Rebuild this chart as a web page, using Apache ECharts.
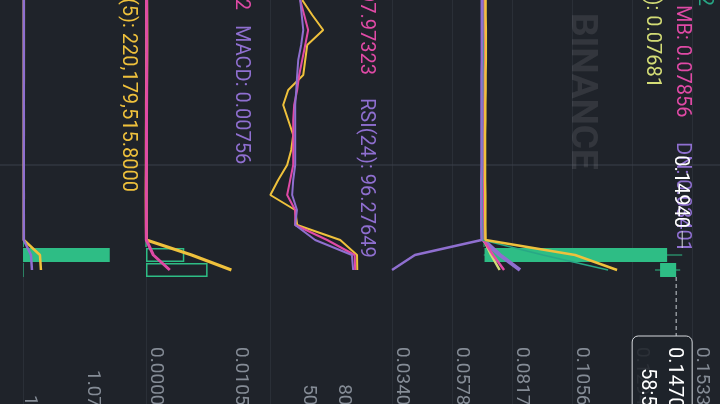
<!DOCTYPE html>
<html><head><meta charset="utf-8">
<script src="https://cdn.jsdelivr.net/npm/echarts@6/dist/echarts.min.js"></script>
<style>html,body{margin:0;padding:0;background:#1f232a;}#c{width:720px;height:404px;}</style>
</head><body><div id="c"></div>
<script>
// ---------- data ----------
const categories = ['10-27 02:00','10-27 03:00','10-27 04:00','10-27 05:00','10-27 06:00','10-27 07:00','10-27 08:00','10-27 09:00','10-27 10:00','10-27 11:00','10-27 12:00','10-27 13:00','10-27 14:00','10-27 15:00','10-27 16:00','10-27 17:00','10-27 18:00','10-27 19:00','10-27 20:00','10-27 21:00','10-27 22:00','10-27 23:00','10-28 00:00','10-28 01:00','10-28 02:00','10-28 03:00','10-28 04:00','10-28 05:00'];
// [open, close, low, high]
const candles = [
 [0.0704,0.0706,0.0701,0.0709],[0.0706,0.0703,0.0700,0.0708],[0.0703,0.0707,0.0702,0.0710],
 [0.0707,0.0705,0.0702,0.0709],[0.0705,0.0704,0.0701,0.0707],[0.0704,0.0702,0.0699,0.0706],
 [0.0702,0.0701,0.0698,0.0705],[0.0701,0.0702,0.0699,0.0704],[0.0702,0.0703,0.0700,0.0705],
 [0.0703,0.0702,0.0700,0.0705],[0.0702,0.0702,0.0700,0.0704],[0.0702,0.0701,0.0699,0.0704],
 [0.0701,0.0700,0.0698,0.0703],[0.0700,0.0698,0.0696,0.0702],[0.0698,0.0703,0.0697,0.0705],
 [0.0703,0.0704,0.0701,0.0706],[0.0704,0.0706,0.0702,0.0709],[0.0708,0.1434,0.0705,0.1494],
 [0.1406,0.1470,0.1386,0.1486]
];
const bollUP = [0.0712,0.0712,0.0713,0.0713,0.0713,0.0712,0.0712,0.0711,0.0711,0.0710,0.0710,0.0710,0.0710,0.0711,0.0711,0.0711,0.0712,0.1068,0.1235];
const bollMB = [0.0704,0.0704,0.0704,0.0705,0.0705,0.0704,0.0704,0.0704,0.0703,0.0703,0.0703,0.0703,0.0703,0.0703,0.0703,0.0703,0.0704,0.0742,0.07856];
const bollDN = [0.0697,0.0697,0.0697,0.0697,0.0697,0.0696,0.0696,0.0696,0.0696,0.0696,0.0696,0.0696,0.0695,0.0695,0.0695,0.0695,0.0696,0.0431,0.03401];
const ma7 = [0.0700,0.0701,0.0701,0.0702,0.0702,0.0701,0.0701,0.0700,0.0700,0.0700,0.0700,0.0700,0.0699,0.0699,0.0699,0.0700,0.0701,0.0940,0.11992];
const ma25 = [0.0705,0.0705,0.0705,0.0705,0.0705,0.0705,0.0705,0.0704,0.0704,0.0704,0.0704,0.0704,0.0704,0.0704,0.0704,0.0704,0.0705,0.0734,0.07681];
const ma99 = [0.0704,0.0704,0.0704,0.0704,0.0704,0.0704,0.0704,0.0704,0.0704,0.0704,0.0704,0.0704,0.0704,0.0704,0.0704,0.0704,0.0704,0.0769,0.0849];
const volumes = [9800000,12100000,8500000,10200000,7900000,11300000,9100000,8200000,10600000,9400000,7500000,8800000,10100000,12600000,9000000,8700000,11200000,1064000000,7200000];
const volMA5 = [9900000,10000000,9800000,10100000,9700000,10000000,9400000,9300000,9700000,9700000,9000000,8700000,9300000,9700000,9600000,9800000,10300000,208000000,220179515.8];
const volMA10 = [9800000,9900000,9900000,10000000,9900000,9900000,9800000,9700000,9700000,9800000,9600000,9500000,9500000,9700000,9600000,9500000,9600000,98000000,110000000];
const macdDIF = [0.00008,0.00009,0.0001,0.0001,0.00009,0.00008,0.00006,0.00005,0.00005,0.00004,0.00004,0.00004,0.00003,0.00002,0.00003,0.00004,0.00006,0.0056,0.01048];
const macdDEA = [0.00007,0.00008,0.00008,0.00009,0.00009,0.00008,0.00008,0.00007,0.00006,0.00006,0.00005,0.00005,0.00004,0.00004,0.00004,0.00004,0.00004,0.0009,0.00292];
const macdHist = [0.00001,0.00001,0.00002,0.00001,0,0,-0.00002,-0.00002,-0.00001,-0.00002,-0.00001,-0.00001,-0.00001,-0.00002,-0.00001,0,0.00002,0.0047,0.00756];
const rsi6 = [52.6,61.2,70.6,56.9,55.2,53.5,40.6,36.3,40.6,44.9,43.2,39.7,32.0,25.3,46.6,48.3,85.2,99.6,99.8];
const rsi12 = [50.9,54.3,57.7,55.2,52.6,50.0,48.3,45.7,44.9,44.9,44.9,44.9,42.3,39.7,46.6,46.6,74.0,97.6,97.97323];
const rsi24 = [50.9,52.2,53.5,51.7,49.2,48.3,47.5,46.6,46.6,46.6,46.6,46.6,44.9,44.0,48.1,46.6,63.7,95.2,96.27649];

const priceTickLabels = ['0.0340','0.0578','0.0817','0.1056','0.1294','0.1533'];
const macdTickLabels = ['0.0000','0.0105'];
const rsiTickValues = [50, 80];
const rsiTickLabels = ['50','80'];
const volTickLabels = ['1','1.07B'];
const highPrice = 0.14940, highLabel = '0.14940';
const lastPrice = 0.1470, lastLabel = '0.1470', countdown = '58:52';
const crossIndex = 11;
const legendVol = ['MA(5): 220,179,515.8000'];
const legendMacd = ['DEA: 0.00292','MACD: 0.00756'];
const legendRsi = ['RSI(12): 97.97323','RSI(24): 96.27649'];
const legendMain = ['MA(7): 0.11992','MB: 0.07856','DN: 0.03401','MA(25): 0.07681'];

// ---------- styles ----------
const C = {bg:'#1f232a', grid:'#2a2f37', label:'#858c96', green:'#2ebd85', red:'#f6465d',
  yellow:'#efc13c', pink:'#e04aa6', purple:'#8f6fd0', lime:'#d3dc76', teal:'#28a886'};
const FONT = 'Roboto, "Noto Sans", sans-serif';
const TOP = -7.5, H = 15 * categories.length;

function fmtStep(min, step, labels) {
  return v => {
    const k = Math.round((v - min) / step);
    if (k < 0 || k >= labels.length) return '';
    if (Math.abs(v - (min + k * step)) > step * 0.02) return '';
    return labels[k];
  };
}
function xAxis(gi, min, max, interval, formatter, split) {
  return {type:'value', gridIndex:gi, min, max, interval, position:'bottom',
    axisLine:{show:false}, axisTick:{show:false},
    splitLine:{show:!!split, lineStyle:{color:C.grid, width:1}},
    axisLabel:{show:!!formatter, inside:true, rotate:-90, margin:7, align:'right', verticalAlign:'bottom',
      color:C.label, fontSize:19, fontFamily:FONT, formatter: formatter || undefined,
      showMinLabel:true, showMaxLabel:true}};
}
function yAxis(gi, line) {
  return {type:'category', gridIndex:gi, data:categories, inverse:true, boundaryGap:true,
    axisLine:{show:line, lineStyle:{color:C.grid, width:1}}, axisTick:{show:false},
    axisLabel:{show:false}, splitLine:{show:false}};
}
function grid(left, width) {
  return {left, width, top:TOP, height:H, containLabel:false, outerBoundsMode:'none'};
}
function line(xi, data, color, width, z) {
  return {type:'line', xAxisIndex:xi, yAxisIndex:xi, data, symbol:'none', clip:false, z: z || 2,
    lineStyle:{color, width}, itemStyle:{color}, animation:false, silent:true};
}
function renderCandle(params, api) {
  const i = api.value(0), o = api.value(1), c = api.value(2), l = api.value(3), h = api.value(4);
  const po = api.coord([o, i]), pc = api.coord([c, i]), pl = api.coord([l, i]), ph = api.coord([h, i]);
  const bw = api.size([0, 1])[1] * 0.93;
  const color = c >= o ? C.green : C.red;
  return {type:'group', children:[
    {type:'line', shape:{x1:pl[0], y1:pl[1], x2:ph[0], y2:ph[1]}, style:{stroke:color, lineWidth:1}},
    {type:'rect', shape:{x:Math.min(po[0], pc[0]), y:po[1] - bw / 2, width:Math.max(Math.abs(pc[0] - po[0]), 1), height:bw},
      style:{fill:color}}
  ]};
}

const option = {
  backgroundColor: C.bg,
  animation: false,
  grid: [grid(23, 106), grid(146, 110), grid(270, 88), grid(392, 328)],
  xAxis: [
    xAxis(0, 0, 1300000000, 1300000000, null, false),
    xAxis(1, 0, 0.0135, 0.0105, fmtStep(0, 0.0105, macdTickLabels), false),
    xAxis(2, 25, 100.43, 5, v => { const i = rsiTickValues.indexOf(Math.round(v)); return (i >= 0 && Math.abs(v - rsiTickValues[i]) < 0.01) ? rsiTickLabels[i] : ''; }, false),
    xAxis(3, 0.0340, 0.16443, 0.02386, fmtStep(0.0340, 0.02386, priceTickLabels), true)
  ],
  yAxis: [yAxis(0, true), yAxis(1, true), yAxis(2, true), yAxis(3, false)],
  series: [
    {type:'bar', xAxisIndex:0, yAxisIndex:0, data:volumes, barWidth:14, silent:true,
      itemStyle:{color: p => candles[p.dataIndex][1] >= candles[p.dataIndex][0] ? C.green : C.red}},
    line(0, volMA5, C.yellow, 2.5),
    line(0, volMA10, C.purple, 2.5),
    {type:'bar', xAxisIndex:1, yAxisIndex:1, data:macdHist, barWidth:14, silent:true,
      itemStyle:{color:'rgba(0,0,0,0)', borderWidth:1.5,
        borderColor: p => macdHist[p.dataIndex] >= 0 ? C.green : C.red}},
    line(1, macdDIF, C.yellow, 3),
    line(1, macdDEA, C.pink, 3),
    line(2, rsi6, C.yellow, 2),
    line(2, rsi12, C.pink, 2),
    line(2, rsi24, C.purple, 2),
    {type:'custom', xAxisIndex:3, yAxisIndex:3, silent:true, clip:false,
      data: candles.map((c, i) => [i, c[0], c[1], c[2], c[3]]),
      encode:{x:[1, 2, 3, 4], y:0}, renderItem: renderCandle},
    line(3, ma99, C.purple, 4),
    line(3, ma25, C.lime, 2.5),
    line(3, bollMB, C.pink, 2.5),
    line(3, ma7, C.teal, 1.5),
    line(3, bollUP, C.yellow, 2.5),
    line(3, bollDN, C.purple, 2.5)
  ]
};

const chart = echarts.init(document.getElementById('c'), null, {renderer:'canvas'});
chart.setOption(option);

function vtext(x, y, text, color, align, size, weight, z) {
  const font = (weight || 'normal') + ' ' + size + 'px ' + FONT;
  return {type:'text', x, y, rotation:-Math.PI/2, z: z || 10, silent:true,
    style:{text, fill:color, font, textAlign:align, textVerticalAlign:'middle', align, verticalAlign:'middle'}};
}
const P = (gi, v, i) => chart.convertToPixel({gridIndex:gi}, [v, categories[i]]);
const hp = P(3, highPrice, 17);
const cp = P(3, lastPrice, 18);
const cross = P(3, lastPrice, crossIndex);

const graphics = [
  {type:'line', z:1, silent:true, shape:{x1:0, y1:cross[1], x2:720, y2:cross[1]}, style:{stroke:'#3a404a', lineWidth:1}},
  vtext(581, 13, 'BINANCE', 'rgba(255,255,255,0.09)', 'left', 37, 'bold', 1),
  vtext(128, 192, legendVol[0], C.yellow, 'right', 20),
  vtext(241, 10, legendMacd[0], C.pink, 'right', 20),
  vtext(241, 25, legendMacd[1], C.purple, 'left', 20),
  vtext(366, 75, legendRsi[0], C.pink, 'right', 20),
  vtext(366, 98, legendRsi[1], C.purple, 'left', 20),
  vtext(704, 6, legendMain[0], C.teal, 'right', 20),
  vtext(682, 5, legendMain[1], C.pink, 'left', 20),
  vtext(682, 142, legendMain[2], C.purple, 'left', 20),
  vtext(652, 88, legendMain[3], C.lime, 'right', 20),
  vtext(30, 395, volTickLabels[0], C.label, 'left', 19),
  vtext(93, 370, volTickLabels[1], C.label, 'left', 19),
  {type:'line', z:10, silent:true, shape:{x1:hp[0], y1:hp[1]-7, x2:hp[0], y2:hp[1]-24}, style:{stroke:'#d8dbdf', lineWidth:1}},
  vtext(hp[0]-2, hp[1]-27, highLabel, '#ffffff', 'right', 20, 'normal', 11),
  {type:'line', z:10, silent:true, shape:{x1:cp[0], y1:cp[1]+7, x2:cp[0], y2:336}, style:{stroke:'#c9cdd3', lineWidth:1, lineDash:[4,3]}},
  {type:'rect', z:12, silent:true, shape:{x:cp[0]-44, y:336, width:60, height:90, r:6},
    style:{fill:'rgba(31,35,42,0.88)', stroke:'#d5d8dc', lineWidth:1}},
  vtext(cp[0]-2, 347, lastLabel, '#ffffff', 'left', 20, 'normal', 13),
  vtext(cp[0]-29, 368, countdown, '#ffffff', 'left', 20, 'normal', 13)
];
chart.setOption({graphic: graphics});
</script>
</body></html>
